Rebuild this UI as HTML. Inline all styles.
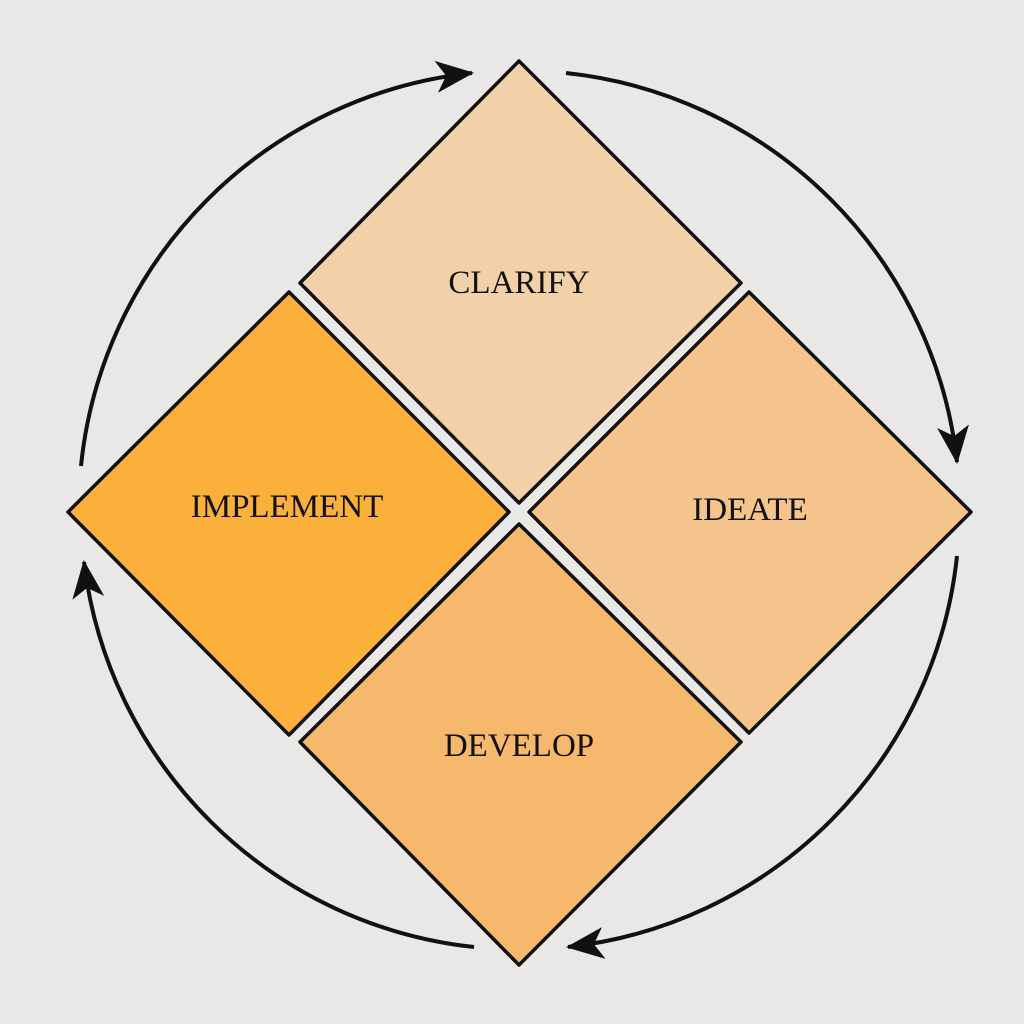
<!DOCTYPE html>
<html><head><meta charset="utf-8"><style>
html,body{margin:0;padding:0;background:#e9e8e6;}
svg{display:block}
text{font-family:"Liberation Serif",serif;font-size:33px;fill:#111;text-anchor:middle;dominant-baseline:central}
</style></head><body>
<svg width="1024" height="1024" viewBox="0 0 1024 1024">
<defs>
<marker id="ah" viewBox="-38 -18 42 36" refX="0" refY="0" markerWidth="42" markerHeight="36" markerUnits="userSpaceOnUse" orient="auto">
<path d="M2 0 L-36 -16 L-26 0 L-36 16 Z" fill="#111"/>
</marker>
</defs>
<rect width="1024" height="1024" fill="#e9e8e6"/>
<g fill="none" stroke="#111" stroke-width="4" marker-end="url(#ah)">
<path d="M 81 466 A 440 440 0 0 1 472 73"/>
<path d="M 566 73 A 440 440 0 0 1 957 462"/>
<path d="M 957 556 A 440 440 0 0 1 568 947"/>
<path d="M 474 947 A 440 440 0 0 1 84 562"/>
</g>
<g stroke="#111" stroke-width="3.5" stroke-linejoin="round">
<polygon points="519,61 741,283 519,503 300,283" fill="#f3d1a8"/>
<polygon points="749,292 971,512 749,733 529,512" fill="#f5c48c"/>
<polygon points="519,524 741,742 519,965 300,742" fill="#f6b86c"/>
<polygon points="289,292 509,512 289,735 68,512" fill="#fbb03b"/>
</g>
<text x="519" y="283">CLARIFY</text>
<text x="750" y="510">IDEATE</text>
<text x="519" y="746">DEVELOP</text>
<text x="287" y="507">IMPLEMENT</text>
</svg>
</body></html>
